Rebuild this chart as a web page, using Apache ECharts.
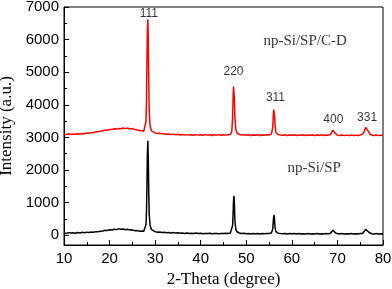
<!DOCTYPE html>
<html><head><meta charset="utf-8">
<script src="https://cdn.jsdelivr.net/npm/echarts@6/dist/echarts.min.js"></script>
<style>html,body{margin:0;padding:0;background:#fff}#c{width:392px;height:289px}</style>
</head><body><div id="c"></div>
<script>
// np-Si/SP (black), [2theta, intensity]
var npSiSP = [[10,70],[10.5,55],[11,80],[11.5,65],[12,75],[12.5,60],[13,85],[13.5,70],[14,90],[14.5,75],[15,95],[15.5,85],[16,100],[16.5,90],[17,110],[17.5,105],[18,125],[18.5,130],[19,150],[19.5,145],[20,170],[20.5,160],[21,185],[21.5,175],[22,195],[22.5,180],[23,190],[23.5,170],[24,180],[24.5,160],[25,165],[25.5,140],[26,145],[26.5,125],[27,130],[27.5,120],[27.8,150],[28.0,330],[28.1,700],[28.2,1500],[28.3,2500],[28.4,2900],[28.5,2300],[28.6,1300],[28.7,650],[28.9,300],[29.2,170],[29.5,120],[30,110],[30.5,90],[31,100],[31.5,85],[32,90],[32.5,75],[33,85],[33.5,70],[34,80],[34.5,65],[35,75],[35.5,60],[36,70],[36.5,55],[37,65],[37.5,50],[38,60],[38.5,55],[39,65],[39.5,50],[40,60],[40.5,45],[41,55],[41.5,50],[42,60],[42.5,45],[43,55],[43.5,50],[44,45],[44.5,55],[45,50],[45.5,60],[46,55],[46.5,70],[46.8,110],[47.0,300],[47.1,650],[47.2,1050],[47.3,1210],[47.4,900],[47.5,450],[47.7,180],[48.0,100],[48.5,70],[49,55],[49.5,60],[50,45],[50.5,55],[51,40],[51.5,50],[52,45],[52.5,55],[53,40],[53.5,50],[54,45],[54.5,55],[55,50],[55.5,70],[55.8,180],[55.9,380],[56.0,560],[56.1,625],[56.2,480],[56.3,250],[56.5,110],[57,60],[57.5,50],[58,45],[58.5,55],[59,40],[59.5,50],[60,45],[60.5,55],[61,40],[61.5,50],[62,35],[62.5,45],[63,40],[63.5,50],[64,35],[64.5,45],[65,40],[65.5,50],[66,35],[66.5,45],[67,40],[67.5,50],[68,45],[68.5,60],[68.8,100],[69.0,150],[69.1,165],[69.2,145],[69.4,95],[69.7,60],[70,45],[70.5,40],[71,50],[71.5,35],[72,45],[72.5,40],[73,50],[73.5,35],[74,45],[74.5,40],[75,50],[75.5,55],[75.9,100],[76.2,180],[76.4,215],[76.6,170],[76.9,90],[77.2,55],[77.5,45],[78,40],[78.5,50],[79,35],[79.5,45],[80,40]];
// np-Si/SP/C-D (red)
var npSiSPCD = [[10,3100],[10.5,3085],[11,3110],[11.5,3090],[12,3105],[12.5,3095],[13,3115],[13.5,3100],[14,3120],[14.5,3110],[15,3135],[15.5,3125],[16,3150],[16.5,3145],[17,3175],[17.5,3170],[18,3200],[18.5,3195],[19,3225],[19.5,3220],[20,3245],[20.5,3240],[21,3265],[21.5,3255],[22,3275],[22.5,3265],[23,3290],[23.5,3270],[24,3285],[24.5,3260],[25,3270],[25.5,3240],[26,3235],[26.5,3210],[27,3205],[27.5,3190],[27.8,3230],[28.0,3500],[28.1,4100],[28.2,5300],[28.3,6300],[28.4,6620],[28.5,6000],[28.6,4700],[28.7,3800],[28.9,3350],[29.2,3200],[29.5,3150],[30,3140],[30.5,3120],[31,3130],[31.5,3110],[32,3115],[32.5,3095],[33,3105],[33.5,3090],[34,3100],[34.5,3080],[35,3095],[35.5,3075],[36,3090],[36.5,3070],[37,3085],[37.5,3070],[38,3080],[38.5,3065],[39,3085],[39.5,3070],[40,3080],[40.5,3065],[41,3085],[41.5,3070],[42,3080],[42.5,3060],[43,3080],[43.5,3070],[44,3085],[44.5,3065],[45,3080],[45.5,3070],[46,3085],[46.5,3090],[46.8,3160],[47.0,3600],[47.1,4200],[47.2,4560],[47.3,4620],[47.4,4200],[47.5,3600],[47.7,3250],[48.0,3130],[48.5,3090],[49,3075],[49.5,3085],[50,3065],[50.5,3080],[51,3060],[51.5,3075],[52,3065],[52.5,3080],[53,3060],[53.5,3075],[54,3065],[54.5,3080],[55,3075],[55.5,3100],[55.8,3300],[55.9,3600],[56.0,3850],[56.1,3900],[56.2,3700],[56.3,3400],[56.5,3150],[57,3090],[57.5,3075],[58,3065],[58.5,3080],[59,3060],[59.5,3075],[60,3065],[60.5,3080],[61,3060],[61.5,3075],[62,3065],[62.5,3080],[63,3060],[63.5,3075],[64,3065],[64.5,3080],[65,3060],[65.5,3075],[66,3065],[66.5,3080],[67,3060],[67.5,3075],[68,3070],[68.5,3090],[68.8,3150],[69.0,3220],[69.1,3240],[69.2,3210],[69.4,3140],[69.7,3085],[70,3070],[70.5,3060],[71,3075],[71.5,3060],[72,3070],[72.5,3055],[73,3075],[73.5,3060],[74,3070],[74.5,3060],[75,3075],[75.5,3100],[75.9,3180],[76.2,3310],[76.4,3350],[76.6,3290],[76.9,3160],[77.2,3090],[77.5,3070],[78,3060],[78.5,3075],[79,3055],[79.5,3070],[80,3065]];
// peak index labels [2theta, intensity, text]
var peakLabels = [[28.6,6800,'111'],[47.2,5020,'220'],[56.4,4220,'311'],[69.1,3540,'400'],[76.5,3600,'331']];
var sampleLabels = [[62.9,5940,'np-Si/SP/C-D'],[64.9,2060,'np-Si/SP']];
var xTicks = {min:10, max:80, interval:10};
var yTicks = {min:-300, max:7000};

var chart = echarts.init(document.getElementById('c'), null, {renderer:'canvas'});
chart.setOption({
  animation:false,
  backgroundColor:'#fff',
  grid:{left:64, right:9, top:7, bottom:44, containLabel:false, outerBoundsMode:'none', show:true, borderColor:'#000', borderWidth:1},
  xAxis:{type:'value', min:xTicks.min, max:xTicks.max, interval:xTicks.interval,
    name:'2-Theta (degree)', nameLocation:'middle', nameGap:24,
    nameTextStyle:{fontFamily:'Liberation Serif', fontSize:17, color:'#000'},
    axisLine:{onZero:false, lineStyle:{color:'#000', width:1}},
    axisTick:{inside:true, length:5, lineStyle:{color:'#000'}},
    minorTick:{show:true, splitNumber:2, length:3, lineStyle:{color:'#000'}},
    axisLabel:{fontFamily:'Liberation Sans', fontSize:15, color:'#000', margin:6},
    splitLine:{show:false}},
  yAxis:{type:'value', min:yTicks.min, max:yTicks.max, splitNumber:7,
    name:'Intensity (a.u.)', nameLocation:'middle', nameGap:46,
    nameTextStyle:{fontFamily:'Liberation Serif', fontSize:17, color:'#000'},
    axisLine:{onZero:false, lineStyle:{color:'#000', width:1}},
    axisTick:{inside:true, length:5, lineStyle:{color:'#000'}},
    minorTick:{show:true, splitNumber:2, length:3, lineStyle:{color:'#000'}},
    axisLabel:{fontFamily:'Liberation Sans', fontSize:15, color:'#000', margin:5,
      formatter:function(v){return v<0?'':String(v);}},
    splitLine:{show:false}},
  series:[
    {type:'line', data:npSiSP, showSymbol:false, symbol:'none', lineStyle:{color:'#000', width:1.5}, z:3},
    {type:'line', data:npSiSPCD, showSymbol:false, symbol:'none', lineStyle:{color:'#ff0000', width:1.5}, z:3},
    {type:'scatter', symbolSize:0, silent:true, z:5,
      data:peakLabels.map(function(p){return {value:[p[0],p[1]], name:p[2]};}),
      label:{show:true, position:'inside', formatter:'{b}', fontFamily:'Liberation Sans', fontSize:12, color:'#000'}},
    {type:'scatter', symbolSize:0, silent:true, z:5,
      data:sampleLabels.map(function(p){return {value:[p[0],p[1]], name:p[2]};}),
      label:{show:true, position:'inside', formatter:'{b}', fontFamily:'Liberation Serif', fontSize:15, color:'#000'}}
  ]
});
</script></body></html>
